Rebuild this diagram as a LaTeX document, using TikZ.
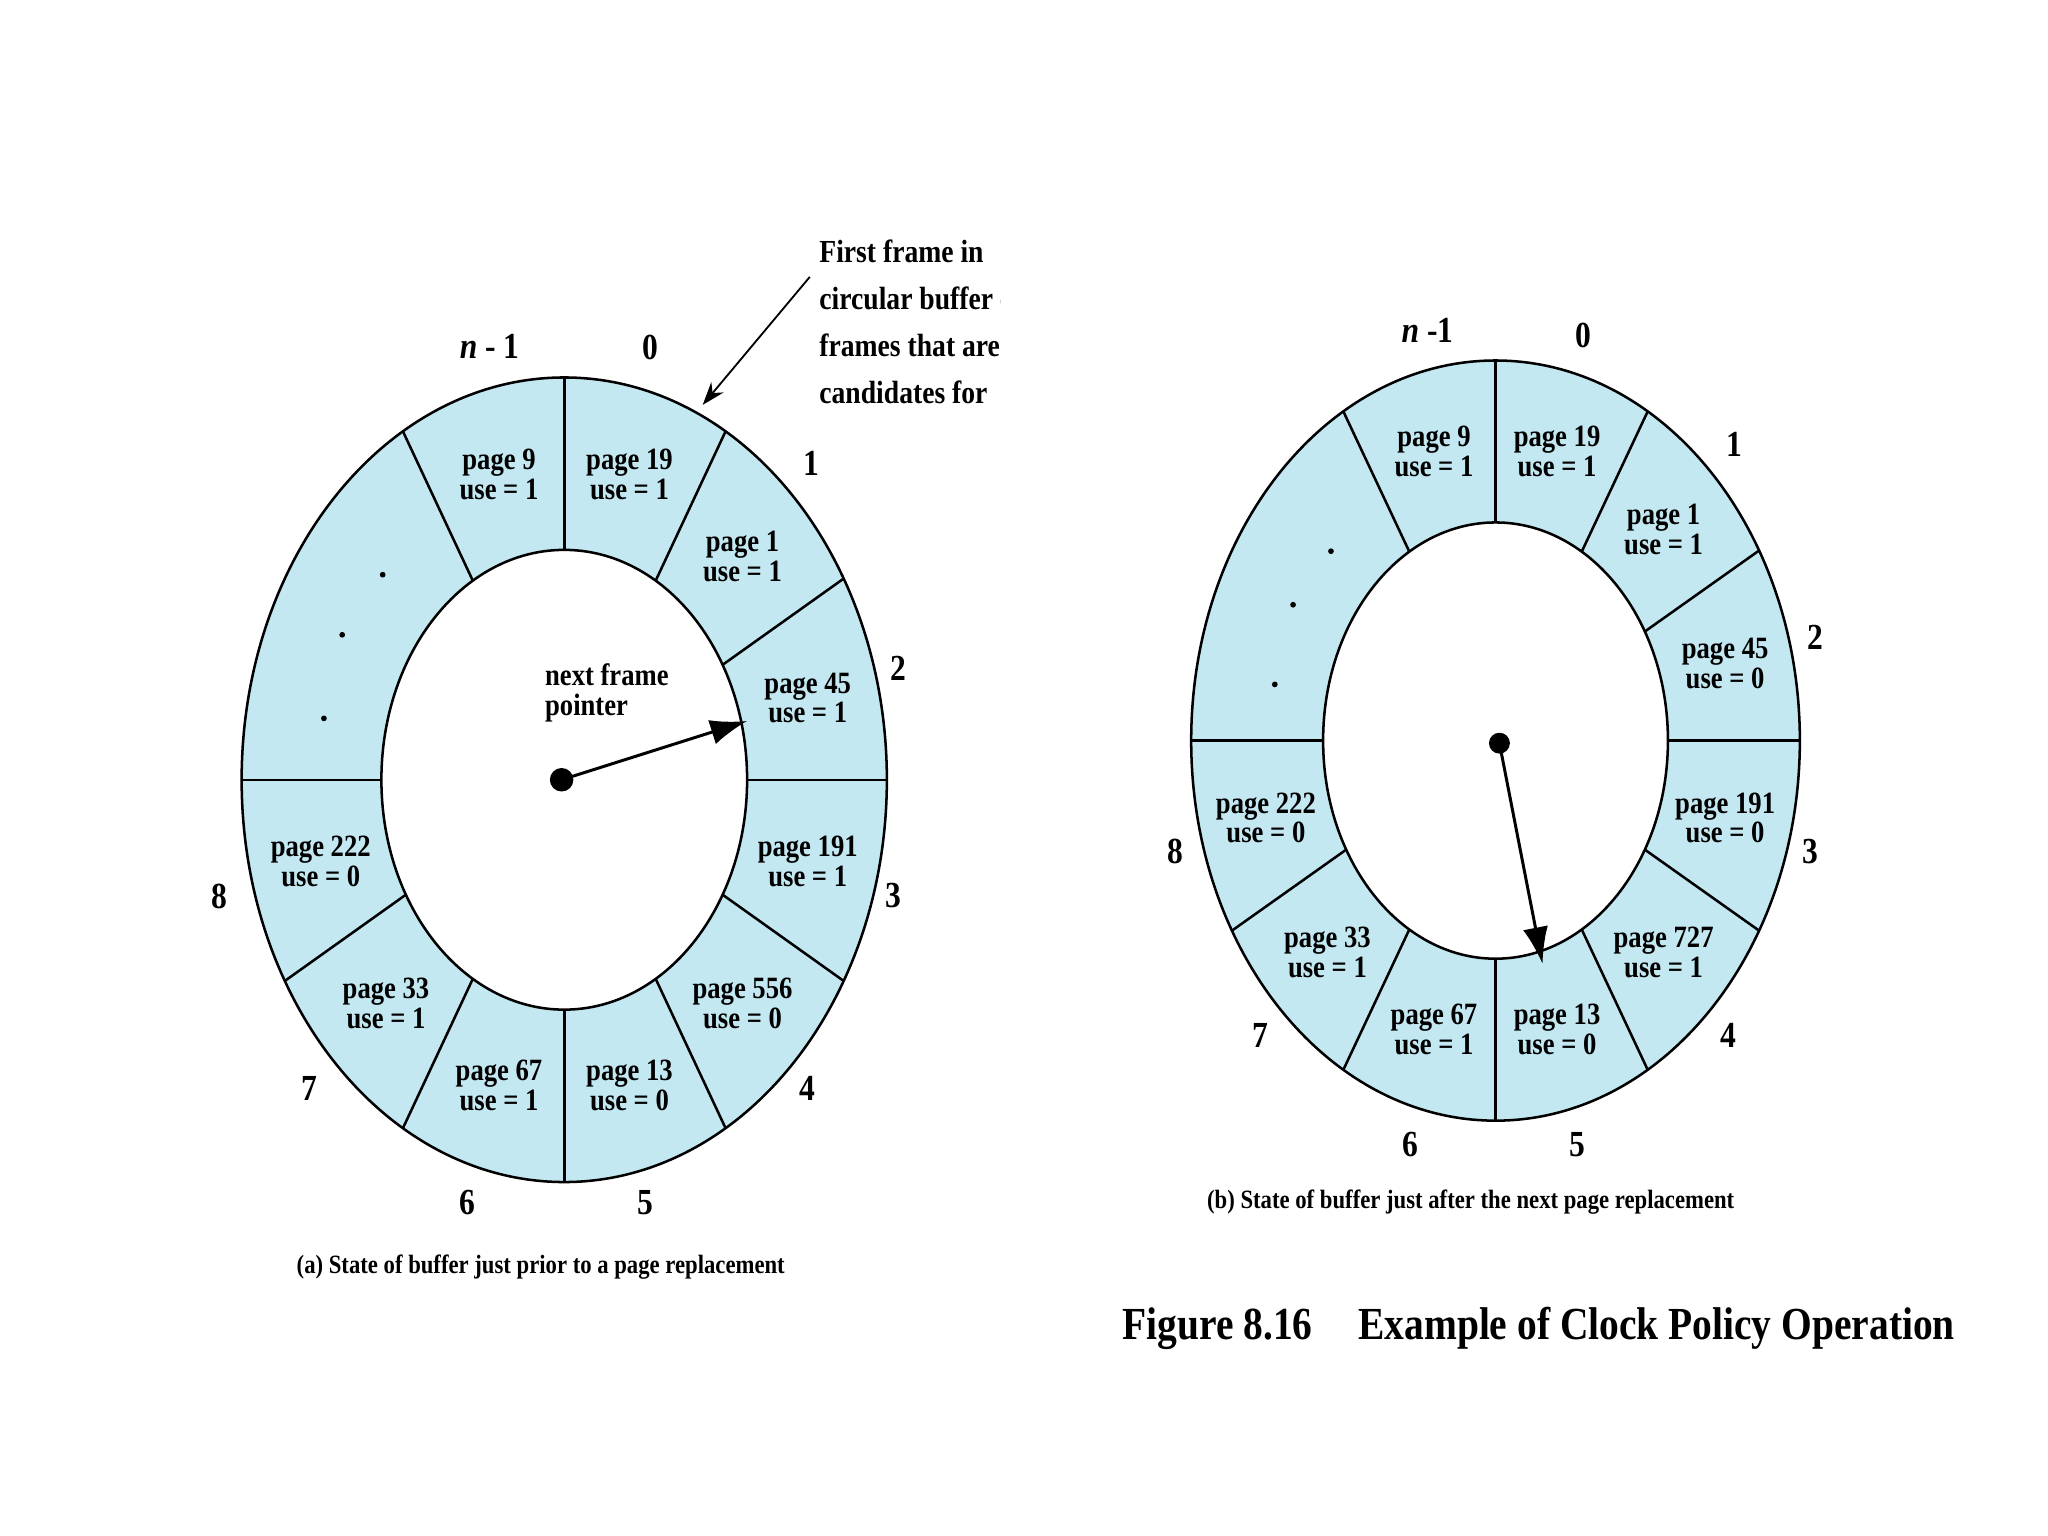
\documentclass[tikz,border=0pt]{standalone}
\usepackage{fontspec}
\setmainfont{Liberation Serif}[FakeStretch=0.86]
\usetikzlibrary{arrows.meta}
\definecolor{ringblue}{RGB}{196,232,241}
\tikzset{
 lbl/.style={font=\bfseries\fontsize{13.5}{13}\selectfont,align=center,inner sep=0pt},
 num/.style={font=\bfseries\fontsize{16}{16}\selectfont,inner sep=0pt},
 captext/.style={font=\bfseries\fontsize{11.5}{12}\selectfont,inner sep=0pt},
 ptr/.style={line width=1.3pt,-{Latex[length=16pt,width=11pt]}},
}
\newcommand{\ringdraw}[6]{% cx cy rx ry irx iry
 \path[fill=ringblue,draw=black,line width=1.1pt,even odd rule] (#1,#2) ellipse ({#3} and {#4}) (#1,#2) ellipse ({#5} and {#6});
 \foreach \t in {90,60,30,0,-30,-60,-90,-120,-150,180,120}
  \draw[line width=1.1pt] ({#1+#5*cos(\t)},{#2-#6*sin(\t)}) -- ({#1+#3*cos(\t)},{#2-#4*sin(\t)});
}
\begin{document}
\begin{tikzpicture}[x=0.02cm,y=-0.02cm]
\useasboundingbox[fill=white] (0,0) rectangle (1568,1176);
% ---------- (a) ----------
\ringdraw{432}{597}{247}{308}{140}{176}
\node[lbl] (a105) at ({432+193*cos(105)},{597-242*sin(105)}) {page 9\\use = 1};
\node[lbl] (a75) at ({432+193*cos(75)},{597-242*sin(75)}) {page 19\\use = 1};
\node[lbl] (a45) at ({432+193*cos(45)},{597-242*sin(45)}) {page 1\\use = 1};
\node[lbl] (a15) at ({432+193*cos(15)},{597-242*sin(15)}) {page 45\\use = 1};
\node[lbl] (am15) at ({432+193*cos(-15)},{597-242*sin(-15)}) {page 191\\use = 1};
\node[lbl] (am45) at ({432+193*cos(-45)},{597-242*sin(-45)}) {page 556\\use = 0};
\node[lbl] (am75) at ({432+193*cos(-75)},{597-242*sin(-75)}) {page 13\\use = 0};
\node[lbl] (am105) at ({432+193*cos(-105)},{597-242*sin(-105)}) {page 67\\use = 1};
\node[lbl] (am135) at ({432+193*cos(-135)},{597-242*sin(-135)}) {page 33\\use = 1};
\node[lbl] (am165) at ({432+193*cos(-165)},{597-242*sin(-165)}) {page 222\\use = 0};
\foreach \p in {(293,440),(262,486),(248,550)} \fill \p circle (2.2);
\node[num] (an1) at (375,265) {\textit{n} - 1};
\node[num] (a0) at (498,266) {0};
\node[num] (a1) at (621,355) {1};
\node[num] (a2) at (688,512) {2};
\node[num] (a3) at (684,686) {3};
\node[num] (a4) at (618,833) {4};
\node[num] (a5) at (494,921) {5};
\node[num] (a6) at (358,921) {6};
\node[num] (a7) at (237,833) {7};
\node[num] (a8) at (168,686) {8};
\fill (430,597) circle (9) coordinate (ac);
\coordinate (atip) at (572,552);
\draw[ptr] (ac) -- (atip);
\node[lbl,align=left,anchor=north west] (anf) at (417,508) {next frame\\pointer};
\begin{scope}
\clip (600,170) rectangle (766,330);
\node[lbl,align=left,anchor=north west,font=\bfseries\fontsize{14}{20.5}\selectfont] (afirst) at (627,183) {First frame in\\circular buffer of\\frames that are\\candidates for};
\end{scope}
\coordinate (afs) at (620,212);
\coordinate (afe) at (538,310);
\draw[line width=0.8pt,-{Stealth[length=10pt,width=7pt]}] (afs) -- (afe);
\node[captext] (acap) at (414,970) {(a) State of buffer just prior to a page replacement};
% ---------- (b) ----------
\ringdraw{1145}{567}{233}{291}{132}{167}
\node[lbl] (b105) at ({1145+182*cos(105)},{567-229*sin(105)}) {page 9\\use = 1};
\node[lbl] (b75) at ({1145+182*cos(75)},{567-229*sin(75)}) {page 19\\use = 1};
\node[lbl] (b45) at ({1145+182*cos(45)},{567-229*sin(45)}) {page 1\\use = 1};
\node[lbl] (b15) at ({1145+182*cos(15)},{567-229*sin(15)}) {page 45\\use = 0};
\node[lbl] (bm15) at ({1145+182*cos(-15)},{567-229*sin(-15)}) {page 191\\use = 0};
\node[lbl] (bm45) at ({1145+182*cos(-45)},{567-229*sin(-45)}) {page 727\\use = 1};
\node[lbl] (bm75) at ({1145+182*cos(-75)},{567-229*sin(-75)}) {page 13\\use = 0};
\node[lbl] (bm105) at ({1145+182*cos(-105)},{567-229*sin(-105)}) {page 67\\use = 1};
\node[lbl] (bm135) at ({1145+182*cos(-135)},{567-229*sin(-135)}) {page 33\\use = 1};
\node[lbl] (bm165) at ({1145+182*cos(-165)},{567-229*sin(-165)}) {page 222\\use = 0};
\foreach \p in {(1019,422),(990,463),(976,524)} \fill \p circle (2.2);
\node[num] (bn1) at (1093,253) {\textit{n} -1};
\node[num] (b0) at (1212,257) {0};
\node[num] (b1) at (1328,340) {1};
\node[num] (b2) at (1390,488) {2};
\node[num] (b3) at (1386,652) {3};
\node[num] (b4) at (1323,793) {4};
\node[num] (b5) at (1208,876) {5};
\node[num] (b6) at (1080,876) {6};
\node[num] (b7) at (965,793) {7};
\node[num] (b8) at (900,652) {8};
\fill (1148,569) circle (8) coordinate (bc);
\coordinate (btip) at (1181,738);
\draw[ptr] (bc) -- (btip);
\node[captext] (bcap) at (1126,920) {(b) State of buffer just after the next page replacement};
\node[font=\bfseries\fontsize{20}{20}\selectfont,inner sep=0pt] (title) at (1178,1017) {Figure 8.16\quad Example of Clock Policy Operation};
\end{tikzpicture}
\end{document}
